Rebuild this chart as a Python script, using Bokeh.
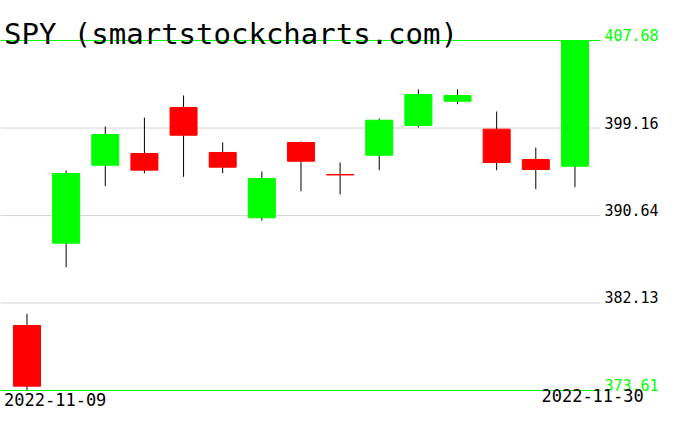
from bokeh.plotting import figure
from bokeh.models import Range1d, Label, ColumnDataSource
from bokeh.embed import file_html
from bokeh.resources import INLINE

# ---- data ----
dates = ["2022-11-09", "2022-11-10", "2022-11-11", "2022-11-14", "2022-11-15",
         "2022-11-16", "2022-11-17", "2022-11-18", "2022-11-21", "2022-11-22",
         "2022-11-23", "2022-11-25", "2022-11-28", "2022-11-29", "2022-11-30"]
opens = [379.94, 387.95, 395.54, 396.68, 401.16, 396.78, 390.42, 397.75,
         394.64, 396.51, 399.41, 401.77, 399.05, 396.10, 395.44]
highs = [381.08, 395.03, 399.31, 400.18, 402.33, 397.75, 394.93, 397.85,
         395.80, 400.09, 402.91, 402.91, 400.77, 397.26, 407.68]
lows = [373.61, 385.61, 393.50, 394.76, 394.41, 394.76, 390.15, 393.01,
        392.69, 395.05, 399.21, 401.48, 395.05, 393.21, 393.40]
closes = [374.03, 394.73, 398.53, 395.06, 398.46, 395.35, 394.25, 395.93,
          394.59, 399.92, 402.42, 402.33, 395.80, 395.12, 407.68]
tick_values = [407.68, 399.16, 390.64, 382.13, 373.61]
tick_labels = ["407.68", "399.16", "390.64", "382.13", "373.61"]
title_text = "SPY (smartstockcharts.com)"

GREEN = "#00ff00"
RED = "#ff0000"
GRID = "#d3d3d3"
FONT = "DejaVu Sans Mono"

n = len(dates)
idx = list(range(n))
body_w = 0.69
x_start, x_end = -0.677, 16.186
x_lo, x_hi = x_start, n - 1 + 0.652

p = figure(width=660, height=415, output_backend="svg", toolbar_location=None,
           x_range=Range1d(x_start, x_end), y_range=Range1d(371.176, 411.574),
           x_axis_location=None, y_axis_location=None, min_border=0)
p.outline_line_color = None
p.xgrid.visible = False
p.ygrid.visible = False
p.background_fill_color = "white"
p.border_fill_color = "white"

# horizontal level lines
ymin, ymax = min(lows), max(highs)
mid_levels = [v for v in tick_values if v not in (ymin, ymax)]
p.segment(x0=[x_lo] * len(mid_levels), x1=[x_hi] * len(mid_levels),
          y0=mid_levels, y1=mid_levels, line_color=GRID, line_width=1)
p.segment(x0=[x_lo, x_lo], x1=[x_hi, x_hi], y0=[ymax, ymin], y1=[ymax, ymin],
          line_color=GREEN, line_width=1)

# candles
colors = [GREEN if c >= o else RED for o, c in zip(opens, closes)]
tops = [max(o, c) for o, c in zip(opens, closes)]
bots = [min(o, c) for o, c in zip(opens, closes)]
src = ColumnDataSource(dict(x=idx, h=highs, l=lows, top=tops, bot=bots,
                            left=[i - body_w / 2 for i in idx],
                            right=[i + body_w / 2 for i in idx], color=colors))
p.segment(x0="x", x1="x", y0="h", y1="l", source=src, line_color="black", line_width=1)
p.quad(left="left", right="right", top="top", bottom="bot", source=src,
       fill_color="color", line_color="color", line_width=1)

# price labels at right (digits sit on their level line)
for v, t in zip(tick_values, tick_labels):
    c = GREEN if v in (ymin, ymax) else "black"
    p.add_layout(Label(x=x_hi, y=v, text=t, x_offset=4, y_offset=11.5,
                       text_font=FONT, text_font_size="15px", text_baseline="top",
                       text_align="left", text_color=c))

# date labels
p.add_layout(Label(x=0, y=ymin, text=dates[0], x_offset=-23, y_offset=-3,
                   text_font=FONT, text_font_size="17px", text_baseline="top",
                   text_align="left", text_color="black"))
p.add_layout(Label(x=n - 1, y=ymin, text=dates[-1], x_offset=-33.5, y_offset=1,
                   text_font=FONT, text_font_size="17px", text_baseline="top",
                   text_align="left", text_color="black"))

# title
p.add_layout(Label(x=x_start, y=ymax, text=title_text, x_offset=3.5, y_offset=24,
                   text_font=FONT, text_font_size="29px", text_baseline="top",
                   text_align="left", text_color="black"))

open("out.html", "w").write(file_html(p, INLINE))
